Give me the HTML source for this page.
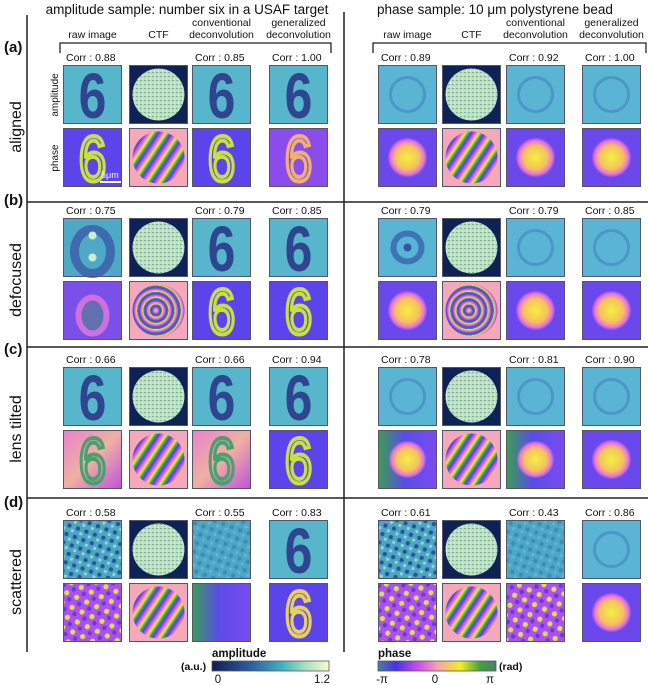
<!DOCTYPE html>
<html><head><meta charset="utf-8">
<style>
html,body{margin:0;padding:0;background:#fff;}
svg{display:block;font-family:"Liberation Sans",sans-serif;}
</style></head>
<body>
<svg id="fig" width="648" height="685" viewBox="0 0 648 685" xmlns="http://www.w3.org/2000/svg">
<defs>
  <pattern id="noise" width="9" height="9" patternUnits="userSpaceOnUse" patternTransform="rotate(20)">
    <rect width="9" height="9" fill="#4aa6c4"/>
    <circle cx="2" cy="2" r="2.2" fill="#2e4f9a"/>
    <circle cx="6.5" cy="6" r="1.6" fill="#8fdbc8"/>
  </pattern>
  <pattern id="noiseP" width="11" height="11" patternUnits="userSpaceOnUse" patternTransform="rotate(25)">
    <rect width="11" height="11" fill="#b050e8"/>
    <circle cx="3" cy="3" r="2.6" fill="#d8e050"/>
    <circle cx="8" cy="8" r="2.2" fill="#5a3ce8"/>
  </pattern>
  <pattern id="noiseCtf" width="4" height="4" patternUnits="userSpaceOnUse">
    <rect width="4" height="4" fill="#b9dfc2"/>
    <rect width="2" height="1" fill="#6fb6b8"/>
    <rect x="2" y="2" width="1" height="2" fill="#e8f2b8"/>
  </pattern>
  <linearGradient id="stripe" x1="0" y1="0" x2="0.18" y2="0.12" spreadMethod="repeat">
    <stop offset="0" stop-color="#5b3de6"/><stop offset="0.3" stop-color="#e46fd8"/>
    <stop offset="0.55" stop-color="#f0e840"/><stop offset="0.8" stop-color="#3a9a5a"/><stop offset="1" stop-color="#5b3de6"/>
  </linearGradient>
  <radialGradient id="rings" cx="0.45" cy="0.5" r="0.12" spreadMethod="repeat">
    <stop offset="0" stop-color="#f0e840"/><stop offset="0.35" stop-color="#e46fd8"/>
    <stop offset="0.65" stop-color="#5b3de6"/><stop offset="1" stop-color="#3a9a5a"/>
  </radialGradient>
  <radialGradient id="bead" cx="0.5" cy="0.5" r="0.5">
    <stop offset="0" stop-color="#f2f040"/><stop offset="0.6" stop-color="#f6c060"/>
    <stop offset="0.85" stop-color="#e870e0"/><stop offset="1" stop-color="#e870e0" stop-opacity="0"/>
  </radialGradient>
  <linearGradient id="tiltbg" x1="0" y1="0" x2="1" y2="1">
    <stop offset="0" stop-color="#e880d0"/><stop offset="0.5" stop-color="#f0b0a0"/><stop offset="1" stop-color="#c050e0"/>
  </linearGradient>
  <linearGradient id="greenleft" x1="0" y1="0" x2="1" y2="0">
    <stop offset="0" stop-color="#3aa050"/><stop offset="0.45" stop-color="#5a4ce8"/><stop offset="1" stop-color="#7a4cf0"/>
  </linearGradient>
  <linearGradient id="ampbar" x1="0" x2="1">
    <stop offset="0" stop-color="#141a55"/><stop offset="0.35" stop-color="#2f62a8"/>
    <stop offset="0.6" stop-color="#3fb3c0"/><stop offset="0.8" stop-color="#a8e0c0"/><stop offset="1" stop-color="#fafad0"/>
  </linearGradient>
  <linearGradient id="phbar" x1="0" x2="1">
    <stop offset="0" stop-color="#4a80a0"/><stop offset="0.15" stop-color="#4a30e8"/>
    <stop offset="0.35" stop-color="#d050e8"/><stop offset="0.5" stop-color="#f6a0b0"/>
    <stop offset="0.7" stop-color="#f0f020"/><stop offset="0.87" stop-color="#40a040"/><stop offset="1" stop-color="#4a8070"/>
  </linearGradient>
</defs>
<g id="content"></g>
</svg>
<script>
const conditions = ["aligned", "defocused", "lens tilted", "scattered"];
const panelLetters = ["(a)", "(b)", "(c)", "(d)"];
const corrAmpRaw = [0.88, 0.75, 0.66, 0.58];
const corrAmpConv = [0.85, 0.79, 0.66, 0.55];
const corrAmpGen = [1.00, 0.85, 0.94, 0.83];
const corrPhRaw = [0.89, 0.79, 0.78, 0.61];
const corrPhConv = [0.92, 0.79, 0.81, 0.43];
const corrPhGen = [1.00, 0.85, 0.90, 0.86];
const colHeaders = ["raw image", "CTF", "conventional|deconvolution", "generalized|deconvolution"];

const NS = "http://www.w3.org/2000/svg";
const root = document.getElementById("content");
function el(tag, attrs, parent) {
  const e = document.createElementNS(NS, tag);
  for (const k in attrs) e.setAttribute(k, attrs[k]);
  (parent || root).appendChild(e);
  return e;
}
function txt(s, attrs, parent) { const t = el("text", attrs, parent); t.textContent = s; return t; }

const rowY = [65, 218, 367, 520];
const leftX = [63, 129, 192, 269];
const rightX = [378, 442, 506, 582];
const T = 59;

let g = el("g", {});


el("line", {x1: 27, y1: 15, x2: 27, y2: 652, stroke: "#222", "stroke-width": 1.5}, g);
el("line", {x1: 344, y1: 12, x2: 344, y2: 652, stroke: "#222", "stroke-width": 1.5}, g);
[202, 347, 498].forEach(y => el("line", {x1: 27, y1: y, x2: 648, y2: y, stroke: "#222", "stroke-width": 1.5}, g));

let t1 = txt("amplitude sample: number six in a USAF target", {x: 187, y: 14, "font-size": 13.5, "text-anchor": "middle", fill: "#111"});


let t2 = txt("phase sample: 10 μm polystyrene bead", {x: 495, y: 14, "font-size": 13.5, "text-anchor": "middle", fill: "#111"});



[[leftX, 60, 331], [rightX, 373, 646]].forEach(([xs, bx1, bx2], side) => {
  const hg = el("g", {});
  
  
  el("path", {d: `M${bx1} 53 V43 H${bx2} V53`, fill: "none", stroke: "#222", "stroke-width": 1.3}, hg);
  colHeaders.forEach((h, i) => {
    const cx = xs[i] + T / 2;
    const parts = h.split("|");
    if (parts.length === 1) txt(parts[0], {x: cx, y: 38, "font-size": 10.5, "text-anchor": "middle", fill: "#111"}, hg);
    else {
      txt(parts[0], {x: cx, y: 26, "font-size": 10.5, "text-anchor": "middle", fill: "#111"}, hg);
      txt(parts[1], {x: cx, y: 38, "font-size": 10.5, "text-anchor": "middle", fill: "#111"}, hg);
    }
  });
});

function tile(x, y, kind, name) {
  const tg = el("g", {});
  
  
  const cx = x + T / 2, cy = y + T / 2;
  const six = (attrs) => txt("6", Object.assign({x: 0, y: 0, "font-size": 64, "text-anchor": "middle",
    transform: `translate(${cx} ${y + T - 6}) scale(0.78 1)`}, attrs), tg);
  switch (kind) {
    case "amp6": el("rect", {x, y, width: T, height: T, fill: "#58b6cc"}, tg); six({fill: "#2f4590", "font-weight": "bold"}); break;
    case "ampBlur": el("rect", {x, y, width: T, height: T, fill: "#4fa8c8"}, tg);
      el("ellipse", {cx, cy: cy + 4, rx: 18, ry: 22, fill: "none", stroke: "#3a5aa8", "stroke-width": 9, opacity: 0.8}, tg);
      el("circle", {cx, cy: cy - 12, r: 4, fill: "#c8f0d0"}, tg); el("circle", {cx, cy: cy + 10, r: 4, fill: "#c8f0d0"}, tg); break;
    case "ampNoise": el("rect", {x, y, width: T, height: T, fill: "url(#noise)"}, tg); break;
    case "ampNoise2": el("rect", {x, y, width: T, height: T, fill: "#4aa8c6"}, tg);
      el("rect", {x, y, width: T, height: T, fill: "url(#noise)", opacity: 0.35}, tg); break;
    case "ctfA": el("rect", {x, y, width: T, height: T, fill: "#0e2258"}, tg);
      el("circle", {cx, cy, r: 26, fill: "url(#noiseCtf)"}, tg); break;
    case "ph6": el("rect", {x, y, width: T, height: T, fill: "#5c44ec"}, tg);
      six({fill: "none", stroke: "#c8e040", "stroke-width": 4}); break;
    case "ph6pink": el("rect", {x, y, width: T, height: T, fill: "#8a4cec"}, tg);
      six({fill: "none", stroke: "#f2b070", "stroke-width": 4}); break;
    case "ph6tilt": el("rect", {x, y, width: T, height: T, fill: "url(#tiltbg)"}, tg);
      six({fill: "none", stroke: "#4aa070", "stroke-width": 4}); break;
    case "phBlob": el("rect", {x, y, width: T, height: T, fill: "#7a50e8"}, tg);
      el("ellipse", {cx, cy: cy + 5, rx: 14, ry: 18, fill: "#6070b0", stroke: "#d070e0", "stroke-width": 6}, tg); break;
    case "phRing6": el("rect", {x, y, width: T, height: T, fill: "#5c44ec"}, tg);
      six({fill: "none", stroke: "#e8d060", "stroke-width": 4}); break;
    case "phNoise": el("rect", {x, y, width: T, height: T, fill: "url(#noiseP)"}, tg); break;
    case "phGreen": el("rect", {x, y, width: T, height: T, fill: "url(#greenleft)"}, tg); break;
    case "ctfStripe": el("rect", {x, y, width: T, height: T, fill: "#f4a8ba"}, tg);
      el("circle", {cx, cy, r: 26, fill: "url(#stripe)"}, tg); break;
    case "ctfRings": el("rect", {x, y, width: T, height: T, fill: "#f4a8ba"}, tg);
      el("circle", {cx, cy, r: 26, fill: "url(#rings)"}, tg); break;
    case "ampBead": el("rect", {x, y, width: T, height: T, fill: "#5ab4d4"}, tg);
      el("circle", {cx, cy, r: 17, fill: "none", stroke: "#4282c0", "stroke-width": 3, opacity: 0.6}, tg); break;
    case "ampBeadRing": el("rect", {x, y, width: T, height: T, fill: "#5ab4d4"}, tg);
      el("circle", {cx, cy, r: 14, fill: "none", stroke: "#3058a8", "stroke-width": 6, opacity: 0.7}, tg);
      el("circle", {cx, cy, r: 4, fill: "#3058a8"}, tg); break;
    case "phBead": el("rect", {x, y, width: T, height: T, fill: "#6a48ec"}, tg);
      el("circle", {cx, cy, r: 20, fill: "url(#bead)"}, tg); break;
    case "phBeadG": el("rect", {x, y, width: T, height: T, fill: "url(#greenleft)"}, tg);
      el("circle", {cx, cy, r: 19, fill: "url(#bead)"}, tg); break;
  }
  el("rect", {x: x + 0.5, y: y + 0.5, width: T - 1, height: T - 1, fill: "none", stroke: "#556", "stroke-width": 1}, tg);
}

const ampKinds = [
  ["amp6", "ctfA", "amp6", "amp6"], ["ampBlur", "ctfA", "amp6", "amp6"],
  ["amp6", "ctfA", "amp6", "amp6"], ["ampNoise", "ctfA", "ampNoise2", "amp6"]];
const phKinds = [
  ["ph6", "ctfStripe", "ph6", "ph6pink"], ["phBlob", "ctfRings", "ph6", "ph6"],
  ["ph6tilt", "ctfStripe", "ph6tilt", "ph6"], ["phNoise", "ctfStripe", "phGreen", "phRing6"]];
const bAmpKinds = [
  ["ampBead", "ctfA", "ampBead", "ampBead"], ["ampBeadRing", "ctfA", "ampBead", "ampBead"],
  ["ampBead", "ctfA", "ampBead", "ampBead"], ["ampNoise", "ctfA", "ampNoise2", "ampBead"]];
const bPhKinds = [
  ["phBead", "ctfStripe", "phBead", "phBead"], ["phBead", "ctfRings", "phBead", "phBead"],
  ["phBeadG", "ctfStripe", "phBeadG", "phBead"], ["phNoise", "ctfStripe", "phNoise", "phBead"]];
const colNames = ["raw", "ctf", "conventional", "generalized"];

conditions.forEach((c, r) => {
  const y = rowY[r];
  const lg = el("g", {});
  
  
  txt(panelLetters[r], {x: 4, y: y - 13, "font-size": 15, "font-weight": "bold", fill: "#111"}, lg);
  txt(c, {x: 0, y: 0, "font-size": 16, "text-anchor": "middle", fill: "#111",
    transform: `translate(21 ${y + 62}) rotate(-90)`}, lg);
  for (let i = 0; i < 4; i++) {
    tile(leftX[i], y, ampKinds[r][i], `amp-sample-${colNames[i]}-amplitude-${r}`);
    tile(leftX[i], y + 63, phKinds[r][i], `amp-sample-${colNames[i]}-phase-${r}`);
    tile(rightX[i], y, bAmpKinds[r][i], `phase-sample-${colNames[i]}-amplitude-${r}`);
    tile(rightX[i], y + 63, bPhKinds[r][i], `phase-sample-${colNames[i]}-phase-${r}`);
  }
  const cg = el("g", {});
  
  
  const cy = y - 4;
  const f = v => "Corr : " + v.toFixed(2);
  txt(f(corrAmpRaw[r]), {x: leftX[0] + 3, y: cy, "font-size": 10.5, fill: "#111"}, cg);
  txt(f(corrAmpConv[r]), {x: leftX[2] + 3, y: cy, "font-size": 10.5, fill: "#111"}, cg);
  txt(f(corrAmpGen[r]), {x: leftX[3] + 3, y: cy, "font-size": 10.5, fill: "#111"}, cg);
  txt(f(corrPhRaw[r]), {x: rightX[0] + 3, y: cy, "font-size": 10.5, fill: "#111"}, cg);
  txt(f(corrPhConv[r]), {x: rightX[2] + 3, y: cy, "font-size": 10.5, fill: "#111"}, cg);
  txt(f(corrPhGen[r]), {x: rightX[3] + 3, y: cy, "font-size": 10.5, fill: "#111"}, cg);
});

const sl = el("g", {});


txt("amplitude", {x: 0, y: 0, "font-size": 10, "text-anchor": "middle", fill: "#111", transform: "translate(58 95) rotate(-90)"}, sl);
txt("phase", {x: 0, y: 0, "font-size": 10, "text-anchor": "middle", fill: "#111", transform: "translate(58 158) rotate(-90)"}, sl);
const sb = el("g", {});


txt("5μm", {x: 101, y: 178, "font-size": 9, fill: "#fff"}, sb);
el("rect", {x: 100, y: 181, width: 21, height: 2, fill: "#fff"}, sb);

const ab = el("g", {});


txt("amplitude", {x: 212, y: 657, "font-size": 11.5, "font-weight": "bold", fill: "#111"}, ab);
txt("(a.u.)", {x: 181, y: 670, "font-size": 10.5, "font-weight": "bold", fill: "#111"}, ab);
el("rect", {x: 212, y: 661, width: 117, height: 10, fill: "url(#ampbar)", stroke: "#555", "stroke-width": 0.8}, ab);
txt("0", {x: 218, y: 683, "font-size": 11.5, "text-anchor": "middle", fill: "#111"}, ab);
txt("1.2", {x: 322, y: 683, "font-size": 11.5, "text-anchor": "middle", fill: "#111"}, ab);
const pb = el("g", {});


txt("phase", {x: 378, y: 657, "font-size": 11.5, "font-weight": "bold", fill: "#111"}, pb);
el("rect", {x: 378, y: 661, width: 118, height: 10, fill: "url(#phbar)", stroke: "#555", "stroke-width": 0.8}, pb);
txt("(rad)", {x: 499, y: 670, "font-size": 10.5, "font-weight": "bold", fill: "#111"}, pb);
txt("-π", {x: 382, y: 683, "font-size": 11.5, "text-anchor": "middle", fill: "#111"}, pb);
txt("0", {x: 435, y: 683, "font-size": 11.5, "text-anchor": "middle", fill: "#111"}, pb);
txt("π", {x: 490, y: 683, "font-size": 11.5, "text-anchor": "middle", fill: "#111"}, pb);
</script>
</body></html>
